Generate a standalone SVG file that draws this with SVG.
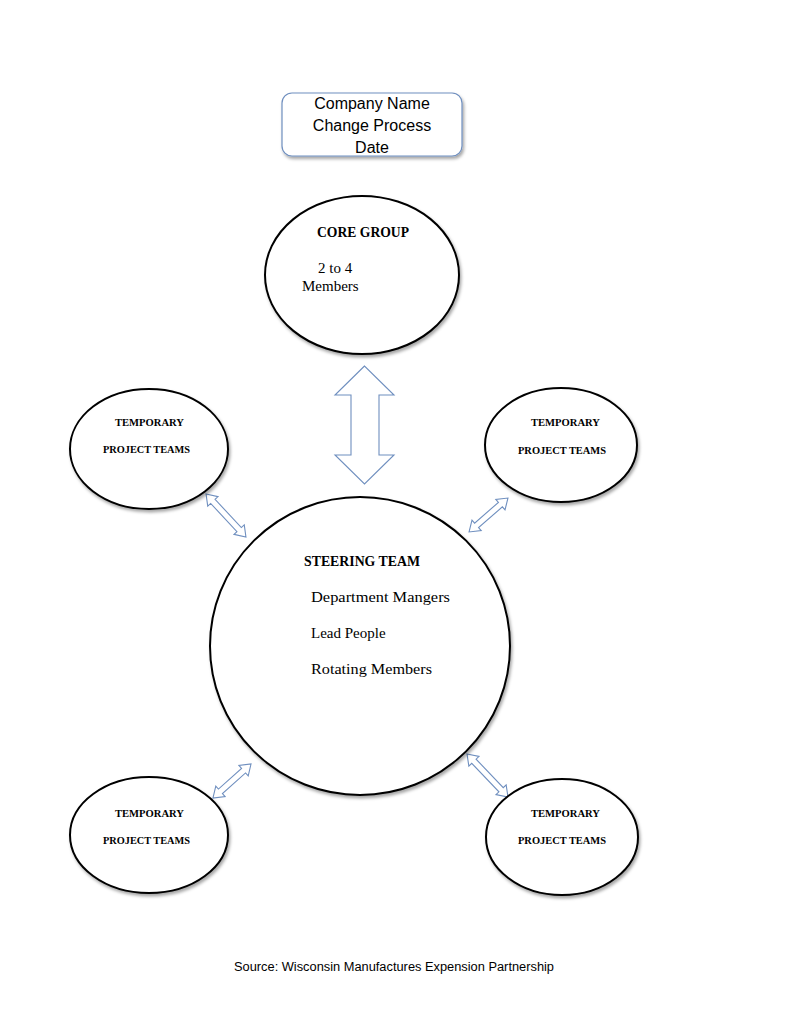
<svg xmlns="http://www.w3.org/2000/svg" width="791" height="1023" viewBox="0 0 791 1023">
<defs>
<filter id="sh" x="-20%" y="-20%" width="140%" height="140%">
<feDropShadow dx="1.5" dy="2.5" stdDeviation="1.5" flood-color="#000" flood-opacity="0.35"/>
</filter>
<style>
.node{fill:#fff;stroke:#000;stroke-width:2;filter:url(#sh)}
.box{fill:#fff;stroke:#6f8fbf;stroke-width:1.2;filter:url(#sh)}
.arr{fill:#fff;stroke:#6f8fbf;stroke-width:1.1;stroke-linejoin:miter}
.ttl{font-family:"Liberation Sans",Arial,sans-serif;font-size:16px;fill:#000;text-anchor:middle}
.hb{font-family:"Liberation Serif","Times New Roman",serif;font-weight:bold;fill:#000}
.tb{font-family:"Liberation Serif","Times New Roman",serif;font-weight:bold;font-size:10px;fill:#000}
.tx{font-family:"Liberation Serif","Times New Roman",serif;font-size:15px;fill:#000}
.src{font-family:"Liberation Sans",Arial,sans-serif;font-size:12px;fill:#000}
</style>
</defs>
<rect width="791" height="1023" fill="#fff"/>

<g id="title">
<rect class="box" x="282" y="93" width="180" height="63" rx="10" ry="10"/>
<text class="ttl" x="372" y="109">Company Name</text>
<text class="ttl" x="372" y="131">Change Process</text>
<text class="ttl" x="372" y="153">Date</text>
</g>

<g id="connectors">
<polygon class="arr" points="364.5,366 335,395 351,395 351,455 335,455 364.5,484 394,455 379,455 379,395 394,395"/>
<polygon class="arr" transform="translate(226,515.5) rotate(47.1)" points="-29.3,0 -19.3,-7 -19.3,-3 19.3,-3 19.3,-7 29.3,0 19.3,7 19.3,3 -19.3,3 -19.3,7"/>
<polygon class="arr" transform="translate(488.5,515) rotate(-41.1)" points="-25.8,0 -15.8,-7 -15.8,-3 15.8,-3 15.8,-7 25.8,0 15.8,7 15.8,3 -15.8,3 -15.8,7"/>
<polygon class="arr" transform="translate(232,781) rotate(-41.8)" points="-25.5,0 -15.5,-7 -15.5,-3 15.5,-3 15.5,-7 25.5,0 15.5,7 15.5,3 -15.5,3 -15.5,7"/>
<polygon class="arr" transform="translate(487.5,775.5) rotate(46.4)" points="-29.7,0 -19.7,-7 -19.7,-3 19.7,-3 19.7,-7 29.7,0 19.7,7 19.7,3 -19.7,3 -19.7,7"/>
</g>

<g id="core-group">
<ellipse class="node" cx="362" cy="275" rx="97" ry="79"/>
<text class="hb" x="317" y="237" font-size="14" textLength="92" lengthAdjust="spacingAndGlyphs">CORE GROUP</text>
<text class="tx" x="318" y="273" font-size="14">2 to 4</text>
<text class="tx" x="302" y="291" font-size="14">Members</text>
</g>

<g id="steering-team">
<ellipse class="node" cx="360" cy="646" rx="150" ry="149"/>
<text class="hb" x="304" y="566" font-size="15" textLength="116" lengthAdjust="spacingAndGlyphs">STEERING TEAM</text>
<text class="tx" x="311" y="602" textLength="139" lengthAdjust="spacingAndGlyphs">Department Mangers</text>
<text class="tx" x="311" y="638">Lead People</text>
<text class="tx" x="311" y="674" textLength="121" lengthAdjust="spacingAndGlyphs">Rotating Members</text>
</g>

<g id="temp-top-left">
<ellipse class="node" cx="149" cy="449" rx="79" ry="60"/>
<text class="tb" x="115" y="426" textLength="69" lengthAdjust="spacingAndGlyphs">TEMPORARY</text>
<text class="tb" x="103" y="453" textLength="87" lengthAdjust="spacingAndGlyphs">PROJECT TEAMS</text>
</g>

<g id="temp-top-right">
<ellipse class="node" cx="561" cy="445" rx="76" ry="57"/>
<text class="tb" x="531" y="426" textLength="69" lengthAdjust="spacingAndGlyphs">TEMPORARY</text>
<text class="tb" x="518" y="454" textLength="88" lengthAdjust="spacingAndGlyphs">PROJECT TEAMS</text>
</g>

<g id="temp-bottom-left">
<ellipse class="node" cx="149" cy="835" rx="79" ry="58"/>
<text class="tb" x="115" y="817" textLength="69" lengthAdjust="spacingAndGlyphs">TEMPORARY</text>
<text class="tb" x="103" y="844" textLength="87" lengthAdjust="spacingAndGlyphs">PROJECT TEAMS</text>
</g>

<g id="temp-bottom-right">
<ellipse class="node" cx="562" cy="837" rx="76" ry="58"/>
<text class="tb" x="531" y="817" textLength="69" lengthAdjust="spacingAndGlyphs">TEMPORARY</text>
<text class="tb" x="518" y="844" textLength="88" lengthAdjust="spacingAndGlyphs">PROJECT TEAMS</text>
</g>

<text class="src" x="234" y="971" textLength="320" lengthAdjust="spacingAndGlyphs">Source: Wisconsin Manufactures Expension Partnership</text>
</svg>
